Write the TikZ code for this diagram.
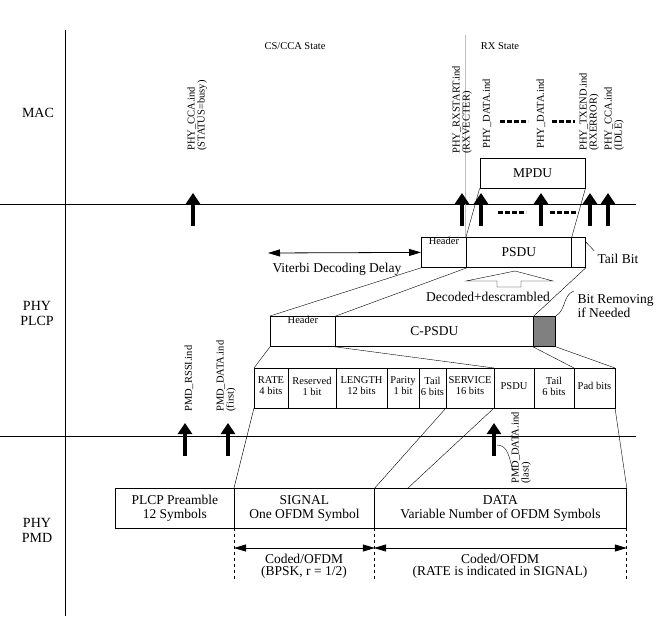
\documentclass[tikz,border=0pt]{standalone}
\usepackage{fontspec}
\setmainfont{Liberation Serif}
\usetikzlibrary{arrows.meta}
\definecolor{fgray}{RGB}{128,128,128}
\definecolor{lgray}{RGB}{190,190,190}
\begin{document}
\begin{tikzpicture}[x=1pt,y=-1pt]
                \useasboundingbox (0,0) rectangle (663,616);
                \tikzstyle{box}=[rectangle, draw, thick, inner sep=0pt]
                \tikzstyle{up}=[-{Triangle[width=14pt,length=11pt]}, line width=3.5pt]
                \tikzstyle{rot}=[rotate=90, anchor=west, align=left, inner sep=1pt, font=\fontsize{10.5}{10}\selectfont]
                \tikzstyle{sm}=[font=\fontsize{10.5}{11}\selectfont, align=center, inner sep=0pt]
                \tikzstyle{big}=[font=\fontsize{13.5}{14}\selectfont, align=center]
                \tikzstyle{bind}=[{Triangle[width=7pt,length=12pt]}-{Triangle[width=7pt,length=12pt]}, thick]

                % axes
                \draw[thick] (65,30) -- (65,616);
                \draw[thick] (0,204) -- (636,204);
                \draw[thick] (0,436) -- (636,436);
                \draw[lgray, thick] (465,35) -- (465,237);
                \node[big, font=\fontsize{14}{15}\selectfont] at (38,113) {MAC};
                \node[big, font=\fontsize{14}{15}\selectfont] at (37,313) {PHY\\PLCP};
                \node[big, font=\fontsize{14}{15}\selectfont] at (37,530) {PHY\\PMD};
                \node[sm] at (295,46) {CS/CCA State};
                \node[sm] at (500,46) {RX State};

                % MAC primitives
                \node[rot] (l1) at (197,152) {PHY\_CCA.ind\\(STATUS=busy)};
                \node[rot] (l2) at (462,155) {PHY\_RXSTART.ind\\(RXVECTER)};
                \node[rot] (l3) at (487,150) {PHY\_DATA.ind};
                \node[rot] (l4) at (541,150) {PHY\_DATA.ind};
                \node[rot] (l5) at (589,152) {PHY\_TXEND.ind\\(RXERROR)};
                \node[rot] (l6) at (614,152) {PHY\_CCA.ind\\(IDLE)};
                \draw[line width=3pt, dash pattern=on 5pt off 2pt] (500,121) -- (528,121);
                \draw[line width=3pt, dash pattern=on 5pt off 2pt] (552,121) -- (575,121);
                \draw[line width=3pt, dash pattern=on 5pt off 2pt] (498,212) -- (526,212);
                \draw[line width=3pt, dash pattern=on 5pt off 2pt] (550,212) -- (578,212);
                \foreach \x/\n in {193/a1,462/a2,481/a3,541/a4,590/a5,608/a6} {
                    \coordinate (\n) at (\x,226);
                    \draw[up] (\n) -- ++(0,-33);
                }

                % MPDU and PSDU
                \node[box, big, minimum width=105pt, minimum height=30pt] (mpdu) at (532.5,173) {MPDU};
                \node[box, minimum width=45pt, minimum height=30pt, anchor=north west] (hdr) at (421,237) {};
                \node[sm, anchor=north] at (hdr.north) {\raisebox{-3pt}{Header}};
                \node[box, big, minimum width=105pt, minimum height=30pt, anchor=north west] (psdu) at (466,237) {PSDU};
                \node[box, minimum width=14pt, minimum height=30pt, anchor=north west] (tail) at (571,237) {};
                \draw (mpdu.south west) -- (psdu.north west);
                \draw (mpdu.south east) -- (psdu.north east);
                \coordinate (v1) at (268,253);
                \draw[bind] (v1) -- (hdr.west);
                \node[big] at (337,269) {Viterbi Decoding Delay};
                \node[big] (tb) at (618,259) {Tail Bit};
                \draw (tail.east |- 0,242) -- (tb.north west);
                \draw (466,281) -- (515,271) -- (553,281) -- (521,281) -- (521,287) -- (497,287) -- (497,281) -- cycle;
                \node[big] at (488,297) {Decoded+descrambled};

                % C-PSDU
                \node[box, minimum width=65pt, minimum height=30pt, anchor=north west] (chdr) at (270,316) {};
                \node[sm, anchor=north] at (chdr.north) {\raisebox{-3pt}{Header}};
                \node[box, big, minimum width=198pt, minimum height=30pt, anchor=north west] (cpsdu) at (335,316) {C-PSDU};
                \node[box, fill=fgray, minimum width=22pt, minimum height=30pt, anchor=north west] (gray) at (533,316) {};
                \node[big, align=left, anchor=west] (br) at (574,306) {Bit Removing\\if Needed};
                \draw (gray.north east) to[out=30,in=200] (br.north west);
                \draw (hdr.south west) -- (chdr.north west);
                \draw (hdr.south east) -- (chdr.north east);
                \draw (tail.south east) -- (cpsdu.north east);

                % fields
                \foreach \a/\b/\t/\n in {254/288/{RATE\\4 bits}/f1, 288/336/{Reserved\\1 bit}/f2, 336/387/{LENGTH\\12 bits}/f3, 387/419/{Parity\\1 bit}/f4, 419/446/{Tail\\6 bits}/f5, 446/494/{SERVICE\\16 bits}/f6, 494/534/{PSDU}/f7, 534/574/{\\[-3pt]Tail\\6 bits}/f8, 574/615/{Pad bits}/f9} {
                    \draw[thick] (\a,368) rectangle (\b,408);
                    \node[sm] (\n) at ({(\a+\b)/2},386) {\t};
                }
                \draw (chdr.south west) -- (254,368);
                \draw (cpsdu.south west) -- (494,368);
                \draw (gray.south west) -- (574,368);
                \draw (gray.south east) -- (615,368);

                % PMD primitives
                \node[rot] (p1) at (189,413) {PMD\_RSSI.ind};
                \node[rot] (p2) at (226,413) {PMD\_DATA.ind\\(first)};
                \node[rot, anchor=center] (p3) at (521,448) {PMD\_DATA.ind\\(last)};
                \foreach \x/\n in {185/b1,228/b2,494/b3} {
                    \coordinate (\n) at (\x,456);
                    \draw[up] (\n) -- ++(0,-33);
                }
                \draw (497,445) to[out=0,in=110] (513,470);

                % PMD row
                \node[box, big, minimum width=119pt, minimum height=40pt, anchor=north west] (pre) at (115,488) {PLCP Preamble\\12 Symbols};
                \node[box, big, minimum width=140pt, minimum height=40pt, anchor=north west] (sig) at (234,488) {SIGNAL\\One OFDM Symbol};
                \node[box, big, minimum width=252pt, minimum height=40pt, anchor=north west] (dat) at (374,488) {DATA\\Variable Number of OFDM Symbols};
                \draw (254,408) -- (sig.north west);
                \draw (446,408) -- (sig.north east);
                \draw (494,408) -- (408,488);
                \draw (615,408) -- (dat.north east);
                \foreach \x in {234,374,626} \draw[thick, dashed] (\x,528) -- (\x,580);
                \draw[bind] (sig.south west |- 0,548) -- (sig.south east |- 0,548);
                \draw[bind] (dat.south west |- 0,548) -- (dat.south east |- 0,548);
                \node[big, font=\fontsize{13.5}{12}\selectfont] at (304,566) {Coded/OFDM\\(BPSK, r = 1/2)};
                \node[big, font=\fontsize{13.5}{12}\selectfont] at (500,566) {Coded/OFDM\\(RATE is indicated in SIGNAL)};
\end{tikzpicture}
\end{document}
